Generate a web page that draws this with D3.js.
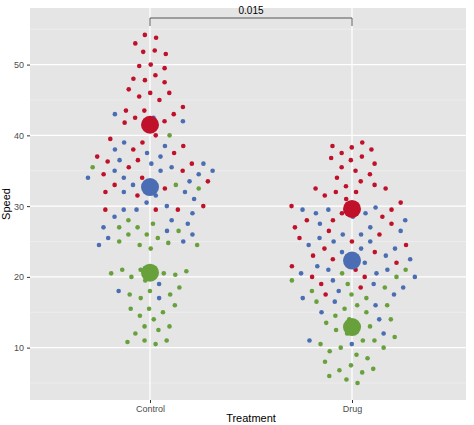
<!DOCTYPE html>
<html><head><meta charset="utf-8">
<script src="https://cdn.jsdelivr.net/npm/d3@7"></script>
<style>body{margin:0;background:#fff}</style></head>
<body><div id="chart"></div>
<script>
const groups = ["Control", "Drug"];
const colors = {red: "#c0102a", blue: "#4a6db3", green: "#68a03c"};
const ctrlRed = [54.2,53.8,53,52,51.5,51.8,50,49.5,49.8,48.5,48,47.8,47.5,46.5,46,46,45.5,45,44,43.5,43,43.5,42.5,42,41.8,41,40,39.5,39,38.5,38,37.5,37,36.5,36,36.3,35.5,35,34.5,34,33.5,33,32.5,32,31.5,30,29.5,29.5,29.5];
const ctrlBlue = [43,42.5,42,39,38.5,38,37.5,37,36.5,36,36,35.5,35,35,35,34.5,34,34,33.5,33,32.5,32,32,31.5,31,30.5,30,29.5,29.5,29,28.5,28,27.5,27,26.5,26,25.5,25,24.5,21,19,18,17];
const ctrlGreen = [40,35.5,33,32.5,28,27.5,27,27,26.5,26,26,25.5,25,24.8,24.5,24.5,24,21,21,20.8,20.5,20.5,20.3,20,19.5,18.5,18,17.5,17.5,17,16,15.5,15.5,15,14.5,14,13,13,12.5,12,11,11,10.8,10.5];
const drugRed = [39,38.5,38.3,38,37.5,37,36.8,36.5,36,35.5,35,34.5,34,33.5,33,32.8,32.5,32.5,32,32,31.5,31,30.5,30,30,29.5,29,28.5,28,28,27.5,27,26.5,26,25.5,25,24.5,24,23.5,23,22.5,22,21.5,21,20,20,19,18.5,17.5];
const drugBlue = [29.8,29.5,29.5,29,29,28.5,28,27.5,27,26.5,26,26,25.5,25,25,24.5,24,24,23.5,23,22.5,22,22,21.5,21,21,20.5,20.5,20,19.5,19,18.5,18,17.5,17,16.5,16,15,14,12,11,10.5];
const drugGreen = [21,20.5,20,19.5,19,18.5,18,17.5,17,16.5,16,16,15.5,15,14.5,14,14,13.5,13,13,12.5,12,11.5,11,11,10.5,10,10,9.5,9,8.5,8,7.5,7,6.8,6.5,6,5.5,5];
const means = [
  {g:"Control", c:"red", v:41.5}, {g:"Control", c:"blue", v:32.7}, {g:"Control", c:"green", v:20.6},
  {g:"Drug", c:"red", v:29.6}, {g:"Drug", c:"blue", v:22.3}, {g:"Drug", c:"green", v:12.9}
];
const yTicks = [10,20,30,40,50];
const pLabel = "0.015";

const width = 474, height = 425;
const L = 30, R = 466, T = 8, B = 400;
const svg = d3.select("#chart").append("svg").attr("width", width).attr("height", height)
  .style("font-family", "Liberation Sans, Arial, sans-serif");

const x = d3.scalePoint().domain(groups).range([150, 352]);
const y = d3.scaleLinear().domain([2.6, 58]).range([B, T]);

svg.append("rect").attr("x", L).attr("y", T).attr("width", R - L).attr("height", B - T).attr("fill", "#e5e5e5");
[5,15,25,35,45,55].forEach(v => svg.append("line").attr("x1", L).attr("x2", R).attr("y1", y(v)).attr("y2", y(v)).attr("stroke", "#f2f2f2").attr("stroke-width", 0.6));
yTicks.forEach(v => svg.append("line").attr("x1", L).attr("x2", R).attr("y1", y(v)).attr("y2", y(v)).attr("stroke", "#fff").attr("stroke-width", 1.2));
groups.forEach(g => svg.append("line").attr("x1", x(g)).attr("x2", x(g)).attr("y1", T).attr("y2", B).attr("stroke", "#fff").attr("stroke-width", 1.2));

const yAxis = svg.append("g").attr("transform", `translate(${L},0)`).call(d3.axisLeft(y).tickValues(yTicks).tickSize(3));
yAxis.select(".domain").remove();
yAxis.selectAll("text").attr("fill", "#4d4d4d").attr("font-size", 9);
yAxis.selectAll("line").attr("stroke", "#333");
const xAxis = svg.append("g").attr("transform", `translate(0,${B})`).call(d3.axisBottom(x).tickSize(3));
xAxis.select(".domain").remove();
xAxis.selectAll("text").attr("fill", "#4d4d4d").attr("font-size", 9);
xAxis.selectAll("line").attr("stroke", "#333");
svg.append("text").attr("x", 251).attr("y", 422).attr("text-anchor", "middle").attr("font-size", 11).text("Treatment");
svg.append("text").attr("transform", `translate(10,${(T + B) / 2}) rotate(-90)`).attr("text-anchor", "middle").attr("font-size", 11).text("Speed");

// beeswarm layout (deterministic start)
const sets = [["Control","red",ctrlRed],["Control","blue",ctrlBlue],["Control","green",ctrlGreen],
              ["Drug","red",drugRed],["Drug","blue",drugBlue],["Drug","green",drugGreen]];
const nodes = [];
let k = 0;
sets.forEach(([g,c,vals]) => vals.forEach(v => { k++; nodes.push({g, c, v, x: x(g) + ((k * 37) % 11 - 5), fy: y(v), y: y(v)}); }));
const sim = d3.forceSimulation(nodes)
  .force("x", d3.forceX(d => x(d.g)).strength(0.03))
  .force("collide", d3.forceCollide(5.8))
  .stop();
for (let i = 0; i < 400; i++) sim.tick();

svg.append("g").selectAll("circle").data(nodes).join("circle")
  .attr("cx", d => d.x).attr("cy", d => d.fy).attr("r", 2.3).attr("fill", d => colors[d.c]);
svg.append("g").selectAll("circle").data(means).join("circle")
  .attr("cx", d => x(d.g)).attr("cy", d => y(d.v)).attr("r", 9).attr("fill", d => colors[d.c]);

// significance bracket
const by = 18;
svg.append("path").attr("fill", "none").attr("stroke", "#333").attr("stroke-width", 0.8)
  .attr("d", `M${x("Control")},${by + 8}V${by}H${x("Drug")}V${by + 8}`);
svg.append("text").attr("x", 251).attr("y", by - 4).attr("text-anchor", "middle").attr("font-size", 10).text(pLabel);
</script></body></html>
